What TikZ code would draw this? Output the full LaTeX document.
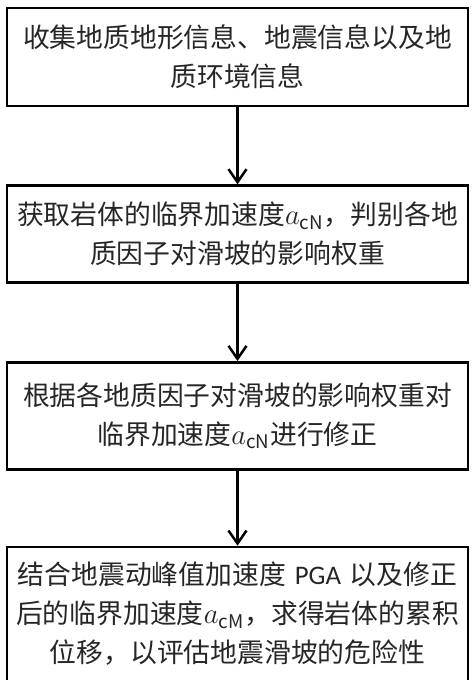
\documentclass[tikz,border=0pt]{standalone}
\usepackage{fontspec}
\setmainfont{Noto Sans CJK SC}
\newfontfamily\latinsans{Carlito}
\usetikzlibrary{arrows.meta,positioning}

\begin{document}
\begin{tikzpicture}[x=1pt, y=1pt,
  box/.style={draw=black, line width=1.35pt, minimum width=230.5pt,
    text width=224pt, align=center, inner sep=0pt, text=black!85,
    font=\fontsize{13.4pt}{19.5pt}\selectfont},
  flow/.style={-{Straight Barb[length=6.5pt, width=9pt]}, line width=1.25pt}]

  \useasboundingbox (0,0) rectangle (237,340);

  \node[box, minimum height=49pt] (collect) at (118.75,311.5)
    {收集地质地形信息、地震信息以及地\\质环境信息};
  \node[box, minimum height=48.5pt, below=38.5pt of collect] (crit)
    {获取岩体的临界加速度$a_{\mathrm{cN}}$，判别各地\\质因子对滑坡的影响权重};
  \node[box, minimum height=53.5pt, below=38.5pt of crit] (revise)
    {根据各地质因子对滑坡的影响权重对\\临界加速度$a_{\mathrm{cN}}$进行修正};
  \node[box, minimum height=67pt, below=37.5pt of revise] (assess)
    {结合地震动峰值加速度 {\latinsans PGA} 以及修正\\后的临界加速度$a_{\mathrm{cM}}$，求得岩体的累积\\位移，以评估地震滑坡的危险性};

  % 自上而下的流程
  \foreach \a/\b in {collect/crit, crit/revise, revise/assess}
    \draw[flow] (\a) -- (\b);
\end{tikzpicture}
\end{document}
